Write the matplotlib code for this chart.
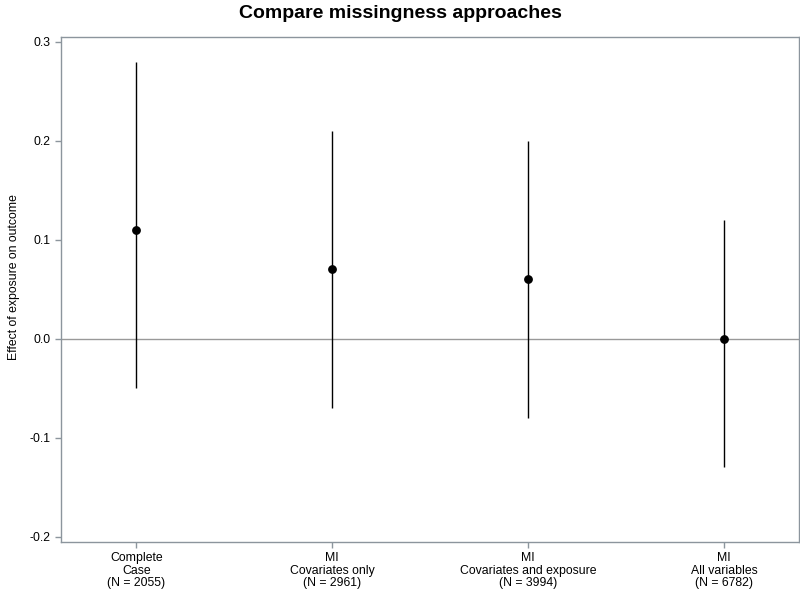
import matplotlib
matplotlib.use("Agg")
import matplotlib.pyplot as plt

categories = ["Complete\nCase\n(N = 2055)",
              "MI\nCovariates only\n(N = 2961)",
              "MI\nCovariates and exposure\n(N = 3994)",
              "MI\nAll variables\n(N = 6782)"]
estimates = [0.11, 0.07, 0.06, 0.0]
lower = [-0.05, -0.07, -0.08, -0.13]
upper = [0.28, 0.21, 0.20, 0.12]
yticks = [-0.2, -0.1, 0.0, 0.1, 0.2, 0.3]
ytick_labels = ["-0.2", "-0.1", "0.0", "0.1", "0.2", "0.3"]

plt.rcParams['font.family'] = ['Liberation Sans', 'DejaVu Sans']

fig = plt.figure(figsize=(8, 6), dpi=100)
ax = fig.add_axes([0.0759, 0.0967, 0.9229, 0.8421])

x = list(range(len(categories)))
ax.axhline(0, color="#999999", lw=1.0, zorder=1)
ax.vlines(x, lower, upper, color="black", lw=1.0, zorder=2)
ax.plot(x, estimates, "o", color="black", markersize=5.3, zorder=3)

ax.set_xlim(-0.386, 3.382)
ax.set_ylim(-0.2054, 0.3051)
ax.set_xticks(x)
ax.set_xticklabels(categories, fontsize=8.8, linespacing=1.05)
ax.set_yticks(yticks)
ax.set_yticklabels(ytick_labels, fontsize=8.8)
ax.set_ylabel("Effect of exposure on outcome", fontsize=8.8, va="center")
ax.yaxis.set_label_coords(-0.063, 0.525)

for s in ax.spines.values():
    s.set_color("#8c959d")
    s.set_linewidth(1.0)
ax.tick_params(axis="both", colors="#8c959d", length=4.5, width=1.0, labelcolor="black", pad=3)

fig.text(0.5, 0.977, "Compare missingness approaches", ha="center", va="center",
         fontsize=14, fontweight="bold")

fig.savefig("out.png", dpi=100)
